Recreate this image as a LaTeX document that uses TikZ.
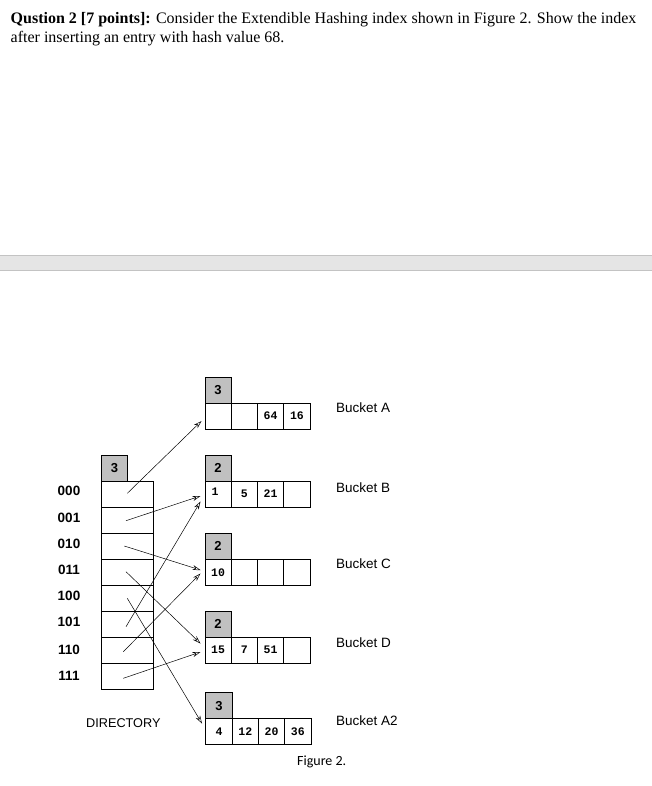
\documentclass[tikz,border=0pt]{standalone}
\usepackage{fontspec}
\setmainfont{Liberation Serif}
\newfontfamily\arialf{Liberation Sans}
\newfontfamily\monof{Liberation Mono}
\newfontfamily\calf{Carlito}
\usetikzlibrary{arrows.meta,calc}
\definecolor{hdrgray}{HTML}{C0C0C0}
\definecolor{barfill}{HTML}{E5E5E5}
\definecolor{barline}{HTML}{C3C3C3}
\tikzset{
  cell/.style={draw=black,line width=0.8pt,minimum width=26.25pt,minimum height=26pt,inner sep=0pt,
    font=\monof\bfseries\fontsize{11.5}{11.5}\selectfont},
  hdr/.style={cell,fill=hdrgray,font=\arialf\bfseries\fontsize{13}{13}\selectfont},
  dcell/.style={draw=black,line width=0.8pt,minimum width=52pt,minimum height=26pt,inner sep=0pt},
  blab/.style={anchor=west,inner sep=0pt,font=\arialf\fontsize{13.5}{13.5}\selectfont},
  dlab/.style={inner sep=0pt,font=\arialf\bfseries\fontsize{13.5}{13.5}\selectfont},
  ptr/.style={line width=0.5pt,-{Stealth[open,length=8pt,width=5pt]}},
  title/.style={anchor=base west,inner sep=0pt,font=\fontsize{16}{16}\selectfont}
}
\begin{document}
\begin{tikzpicture}[x=1pt,y=-1pt]
\useasboundingbox (0,0) rectangle (652,786);
% title
\node[title] (t1) at (10.5,24) {\textbf{Qustion 2 [7 points]:} Consider the Extendible Hashing index shown in Figure 2. Show the index};
\node[title] (t2) at (10.5,42.5) {after inserting an entry with hash value 68.};
% bar
\fill[barfill] (0,255.5) rectangle (652,270.5);
\draw[barline,line width=1pt] (0,255.5) -- (652,255.5);
\draw[barline,line width=1pt] (0,270.5) -- (652,270.5);
% directory
\node[hdr,minimum width=25.6pt] (dh) at (114.5,468) {3};
\foreach \i in {0,...,7}{
  \node[dcell] (d\i) at (127.7,{494+26*\i}) {};
}
\node[dlab] (l0) at (69,491) {000};
\node[dlab] (l1) at (69,518) {001};
\node[dlab] (l2) at (69,543.5) {010};
\node[dlab] (l3) at (69,570) {011};
\node[dlab] (l4) at (69,595.5) {100};
\node[dlab] (l5) at (69,622) {101};
\node[dlab] (l6) at (69,649.5) {110};
\node[dlab] (l7) at (69,676) {111};
\node[blab,font=\arialf\fontsize{12.7}{12.7}\selectfont] (dir) at (86,723) {DIRECTORY};
% buckets
\node[hdr] (Ah) at (218.1,390) {3};
\node[cell] (A1) at (218.1,416) {};
\node[cell] (A2) at (244.4,416) {};
\node[cell] (A3) at (270.6,416) {64};
\node[cell] (A4) at (296.9,416) {16};
\node[hdr] (Bh) at (218.1,468) {2};
\node[cell] (B1) at (218.1,494) {};
\node[cell] (B2) at (244.4,494) {5};
\node[cell] (B3) at (270.6,494) {21};
\node[cell] (B4) at (296.9,494) {};
\node[font=\monof\bfseries\fontsize{11.5}{11.5}\selectfont,inner sep=0pt] (B1t) at (215,492) {1};
\node[hdr] (Ch) at (218.1,546.3) {2};
\node[cell] (C1) at (218.1,572.3) {10};
\node[cell] (C2) at (244.4,572.3) {};
\node[cell] (C3) at (270.6,572.3) {};
\node[cell] (C4) at (296.9,572.3) {};
\node[hdr] (Dh) at (218.1,624) {2};
\node[cell] (D1) at (218.1,650) {15};
\node[cell] (D2) at (244.4,650) {7};
\node[cell] (D3) at (270.6,650) {51};
\node[cell] (D4) at (296.9,650) {};
\node[hdr] (Eh) at (219,705.7) {3};
\node[cell] (E1) at (219,731.3) {4};
\node[cell] (E2) at (245.3,731.3) {12};
\node[cell] (E3) at (271.5,731.3) {20};
\node[cell] (E4) at (297.8,731.3) {36};
% labels
\node[blab] (bA) at (336,408) {Bucket A};
\node[blab] (bB) at (336,487.5) {Bucket B};
\node[blab] (bC) at (336,564) {Bucket C};
\node[blab] (bD) at (336,643) {Bucket D};
\node[blab] (bE) at (336,721) {Bucket A2};
\node[anchor=west,inner sep=0pt,font=\calf\fontsize{14}{14}\selectfont] (fig) at (297,761.5) {Figure 2.};
% pointers
\coordinate (s0) at (127.3,493.3);
\coordinate (s1) at (126,520.7);
\coordinate (s2) at (124.3,546);
\coordinate (s3) at (126,571.7);
\coordinate (s4) at (127.3,598.3);
\coordinate (s5) at (126,626.7);
\coordinate (s6) at (123.3,651.7);
\coordinate (s7) at (123.3,678.3);
\coordinate (eA) at (201.5,421);
\coordinate (eB1) at (200.5,496);
\coordinate (eB2) at (200.5,501.5);
\coordinate (eC1) at (200.5,570);
\coordinate (eC2) at (200.5,573.5);
\coordinate (eD1) at (200.5,643.5);
\coordinate (eD2) at (200.5,652);
\coordinate (eE) at (202,723.5);
\draw[ptr] (s0) -- (eA);
\draw[ptr] (s1) -- (eB1);
\draw[ptr] (s5) -- (eB2);
\draw[ptr] (s2) -- (eC1);
\draw[ptr] (s6) -- (eC2);
\draw[ptr] (s3) -- (eD1);
\draw[ptr] (s7) -- (eD2);
\draw[ptr] (s4) -- (eE);
\end{tikzpicture}
\end{document}
